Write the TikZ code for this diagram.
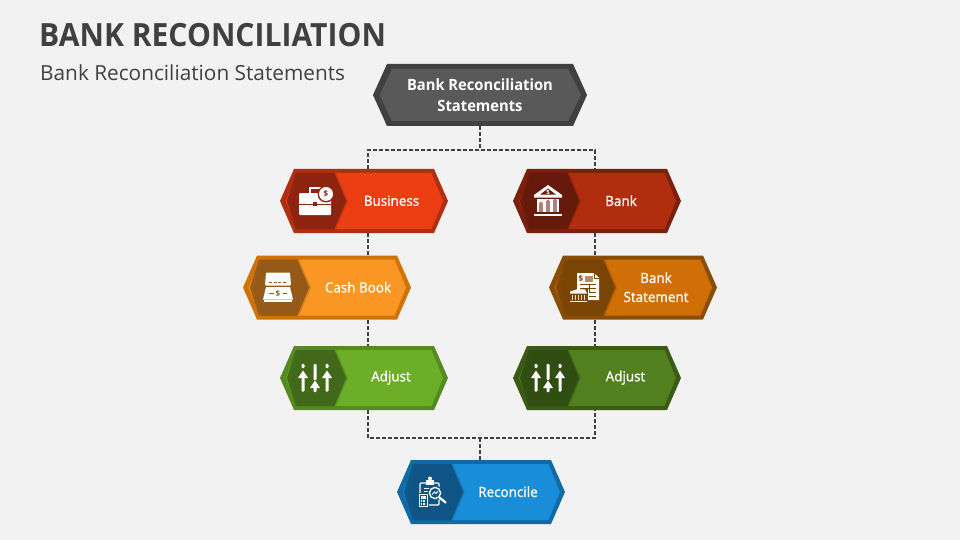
\documentclass[tikz,border=0pt]{standalone}
\usepackage{fontspec}
\setmainfont{Open Sans}
\newfontfamily\labelfont[FakeBold=1.1,FakeStretch=0.96]{Open Sans}
\newfontfamily\titlefont[FakeStretch=0.94]{Open Sans Bold}
\newfontfamily\topfont[FakeStretch=0.95]{Open Sans Bold}
\definecolor{bgc}{HTML}{F2F2F2}
\definecolor{inkc}{HTML}{404040}
\definecolor{topfill}{HTML}{595959}
\definecolor{bizb}{HTML}{B02F10}\definecolor{bizf}{HTML}{EB3F13}\definecolor{bizc}{HTML}{8C2410}
\definecolor{bnkb}{HTML}{7A200C}\definecolor{bnkf}{HTML}{B02D0E}\definecolor{bnkc}{HTML}{661A0B}
\definecolor{cshb}{HTML}{D17208}\definecolor{cshf}{HTML}{FA9624}\definecolor{cshc}{HTML}{955A17}
\definecolor{stmb}{HTML}{8A4D05}\definecolor{stmf}{HTML}{D06F05}\definecolor{stmc}{HTML}{7A4504}
\definecolor{adlb}{HTML}{558A20}\definecolor{adlf}{HTML}{6CAE27}\definecolor{adlc}{HTML}{42681A}
\definecolor{adrb}{HTML}{3A5A15}\definecolor{adrf}{HTML}{53801F}\definecolor{adrc}{HTML}{304D12}
\definecolor{recb}{HTML}{0F6AA6}\definecolor{recf}{HTML}{1A8DD9}\definecolor{recc}{HTML}{0E5585}
\tikzset{
  x=1pt,y=-1pt,
  anchorbox/.style={inner sep=0pt,outer sep=0pt,minimum width=168pt,minimum height=64pt},
  boxlabel/.style={text=white,font=\labelfont\fontsize{14}{19}\selectfont,align=center,inner sep=0pt},
  toplabel/.style={text=white,font=\topfont\fontsize{15.5}{21}\selectfont,align=center,inner sep=0pt},
  link/.style={draw=inkc,line width=2pt,dash pattern=on 4pt off 2pt},
  dollar/.style={font=\bfseries\fontsize{8}{8}\selectfont,inner sep=0pt},
}
% #1 name, #2 left x, #3 mid y, #4 border, #5 fill, #6 core, #7 label offset, #8 label, #9 icon
\newcommand{\hexbox}[9]{
  \begin{scope}[shift={(#2,#3)}]
    \node[anchorbox] (#1) at (84,0) {};
    \fill[#4] (0,0) -- (14,-32) -- (154,-32) -- (168,0) -- (154,32) -- (14,32) -- cycle;
    \fill[#5] (6,0) -- (16.5,-28) -- (151.5,-28) -- (163,0) -- (151.5,28) -- (16.5,28) -- cycle;
    \fill[#6,opacity=.3] (7,0) -- (16,-28) -- (56,-28) -- (68,0) -- (56,28) -- (16,28) -- cycle;
    \fill[#6,opacity=.6] (7,0) -- (16,-28) -- (54.5,-28) -- (66.5,0) -- (54.5,28) -- (16,28) -- cycle;
    \fill[#6,opacity=.8] (7,0) -- (16,-28) -- (54,-28) -- (66,0) -- (54,28) -- (16,28) -- cycle;
    \fill[#6] (11,0) -- (19,-28) -- (54,-28) -- (65.5,0) -- (54,28) -- (19,28) -- cycle;
    \node[boxlabel] (#1-text) at (#7,-.3) {#8};
    \begin{scope}[shift={(35,0)}]
      \def\corecol{#6}
      #9
    \end{scope}
  \end{scope}
}
\newcommand{\iconcase}{
  \fill[white,rounded corners=1pt] (-16,-8) rectangle (16,14);
  \draw[white,line width=1.4pt] (-5,-8) -- (-5,-13) -- (5,-13) -- (5,-8);
  \draw[\corecol,line width=.8pt] (-16,3) -- (16,3);
  \fill[\corecol] (-2,1) rectangle (2,5);
  \fill[\corecol] (11,-7) circle (8.5pt);
  \fill[white] (11,-7) circle (7pt);
  \node[dollar,text=\corecol] (casedollar) at (11,-7) {\$};
}
\newcommand{\iconbank}{
  \fill[white] (-14,-6) -- (0,-16) -- (14,-6) -- (14,-3.5) -- (-14,-3.5) -- cycle;
  \fill[\corecol] (-8,-6.3) -- (0,-12.5) -- (8,-6.3) -- cycle;
  \node[dollar,text=white,font=\bfseries\fontsize{6}{6}\selectfont] (bankdollar) at (0,-8.5) {\$};
  \fill[white] (-11,-2.5) rectangle (11,11);
  \foreach \cx/\cy in {-7/2,0/0,7/-1}{
    \fill[\corecol!55!white] (\cx-1.8,\cy) -- (\cx-1.8,11) -- (\cx+1.8,11) -- (\cx+1.8,\cy) arc (0:-180:1.8pt and -1.5pt) -- cycle;
  }
  \fill[white] (-14,12.5) rectangle (14,14.5);
}
\newcommand{\iconcash}{
  \fill[white,rounded corners=1pt] (-12,-15) -- (12,-15) -- (13,-2) -- (-13,-2) -- cycle;
  \draw[\corecol,line width=.8pt,dash pattern=on 3pt off 1.6pt] (-9,-5.5) -- (9,-5.5);
  \fill[white] (-12,-.5) -- (12,-.5) -- (15,12) -- (-15,12) -- cycle;
  \fill[white] (-14,12.5) rectangle (14,14.5);
  \draw[\corecol,line width=.9pt] (-9,6) -- (-4.5,6) (4.5,6) -- (9,6);
  \node[dollar,text=\corecol] (cashdollar) at (0,6) {\$};
}
\newcommand{\iconstmt}{
  \fill[white] (-7,-14.5) -- (10,-14.5) -- (15,-9.5) -- (15,12.5) -- (-7,12.5) -- cycle;
  \draw[\corecol,line width=.8pt] (10,-14.5) -- (10,-9.5) -- (15,-9.5);
  \node[dollar,text=\corecol] (stmtdollar) at (-3,-9) {\$};
  \fill[\corecol!60!white] (1,-12) rectangle (9,-6);
  \draw[\corecol,line width=.8pt] (-4,-3) -- (12,-3) (-4,1) -- (12,1) (5,5) -- (12,5) (5,9) -- (12,9) (5,-3) -- (5,5);
  \fill[\corecol] (-15,1) rectangle (4,15.5);
  \fill[white] (-14,4) -- (-6,1.5) -- (1,2) -- (3,6) -- (-14,6) -- cycle;
  \foreach \bx in {-12.5,-9.5,-6.5,-3.5,-0.5}{\fill[white!80!\corecol] (\bx,7) rectangle ++(1.5,5.5);}
  \fill[white] (-14,13) rectangle (3,14.5);
}
\newcommand{\iconadjust}{
  \foreach \ix in {-12,12}{
    \fill[white,rounded corners=.8pt] (\ix-1.5,-14) rectangle (\ix+1.5,-10);
    \fill[white] (\ix,-7.5) -- (\ix+5,0) -- (\ix-5,0) -- cycle;
    \fill[white,rounded corners=.8pt] (\ix-1.5,-1) rectangle (\ix+1.5,13.5);
  }
  \fill[white,rounded corners=.8pt] (-1.5,-14) rectangle (1.5,2);
  \fill[white] (0,2.5) -- (5,10) -- (-5,10) -- cycle;
  \fill[white,rounded corners=.8pt] (-1.5,9) rectangle (1.5,14);
}
\newcommand{\iconrec}{
  \draw[white,line width=1.2pt,rounded corners=1pt] (-12,-9) rectangle (7,13);
  \fill[white] (-6,-12) rectangle (2,-7);
  \fill[white] (-2,-13.5) circle (2pt);
  \draw[white,line width=.9pt] (-8,-4) -- (2,-4) (-8,-1) -- (-2,-1);
  \fill[\corecol] (-14,1) rectangle (-3,15);
  \draw[white,line width=1pt] (-13,2.5) rectangle (-5,14);
  \fill[white] (-11.5,4) rectangle (-6.5,6.5);
  \foreach \kx in {-11.5,-9}{\foreach \ky in {8,10.8}{\fill[white] (\kx,\ky) rectangle ++(1.8,1.8);}}
  \fill[\corecol] (3,1) circle (7.5pt);
  \draw[white,line width=1.3pt] (3,1) circle (5.6pt);
  \draw[white,line width=.9pt] (0,2.5) -- (2.5,0) -- (4,1.5) -- (6,-1);
  \draw[white,line width=2.2pt,line cap=round] (7.5,5.5) -- (13.5,10.5);
}
\begin{document}
\begin{tikzpicture}
  \useasboundingbox[fill=bgc] (0,0) rectangle (960,540);
  \node[anchor=base west,inner sep=0pt,text=inkc,font=\titlefont\fontsize{32}{38}\selectfont] (title) at (39,47) {BANK RECONCILIATION};
  \node[anchor=base west,inner sep=0pt,text=inkc,font=\fontsize{20.8}{25}\selectfont] (subtitle) at (40,81) {Bank Reconciliation Statements};

  % named anchors of the connectors
  \coordinate (colL) at (368,0);
  \coordinate (colR) at (595,0);
  \coordinate (colM) at (480,0);
  \coordinate (busTop) at (480,150);
  \coordinate (busBot) at (480,438);

  % invisible anchors first, so connectors lie under the boxes
  \node[anchorbox,minimum width=214pt,minimum height=62pt] (top) at (480,95) {};
  \node[anchorbox] (bizA) at (364,201) {};
  \node[anchorbox] (bnkA) at (597,201) {};
  \node[anchorbox] (cshA) at (327,287.5) {};
  \node[anchorbox] (stmA) at (633,287.5) {};
  \node[anchorbox] (adlA) at (364,378) {};
  \node[anchorbox] (adrA) at (597,378) {};
  \node[anchorbox] (recA) at (481,492) {};

  \draw[link] (top.south -| colM) -- (busTop);
  \draw[link] (bizA.north -| colL) -- (busTop -| colL) -- (busTop -| colR) -- (bnkA.north -| colR);
  \draw[link] (bizA.south -| colL) -- (cshA.north -| colL);
  \draw[link] (cshA.south -| colL) -- (adlA.north -| colL);
  \draw[link] (bnkA.south -| colR) -- (stmA.north -| colR);
  \draw[link] (stmA.south -| colR) -- (adrA.north -| colR);
  \draw[link] (adlA.south -| colL) -- (busBot -| colL) -- (busBot -| colR) -- (adrA.south -| colR);
  \draw[link] (busBot -| colM) -- (recA.north -| colM);

  % top hexagon
  \fill[inkc] (373,95) -- (387,64) -- (573,64) -- (587,95) -- (573,126) -- (387,126) -- cycle;
  \fill[topfill] (379.5,95) -- (392,69) -- (568,69) -- (581,95) -- (568,121) -- (392,121) -- cycle;
  \node[toplabel] (topText) at (480,95) {Bank Reconciliation\\Statements};

  \hexbox{biz}{280}{201}{bizb}{bizf}{bizc}{111.5}{Business}{\iconcase}
  \hexbox{bnk}{513}{201}{bnkb}{bnkf}{bnkc}{108}{Bank}{\iconbank}
  \hexbox{csh}{243}{287.5}{cshb}{cshf}{cshc}{115}{Cash Book}{\iconcash}
  \hexbox{stm}{549}{287.5}{stmb}{stmf}{stmc}{107}{Bank\\Statement}{\iconstmt}
  \hexbox{adl}{280}{378}{adlb}{adlf}{adlc}{111}{Adjust}{\iconadjust}
  \hexbox{adr}{513}{378}{adrb}{adrf}{adrc}{112.5}{Adjust}{\iconadjust}
  \hexbox{rec}{397}{492}{recb}{recf}{recc}{111}{Reconcile}{\iconrec}
\end{tikzpicture}
\end{document}
